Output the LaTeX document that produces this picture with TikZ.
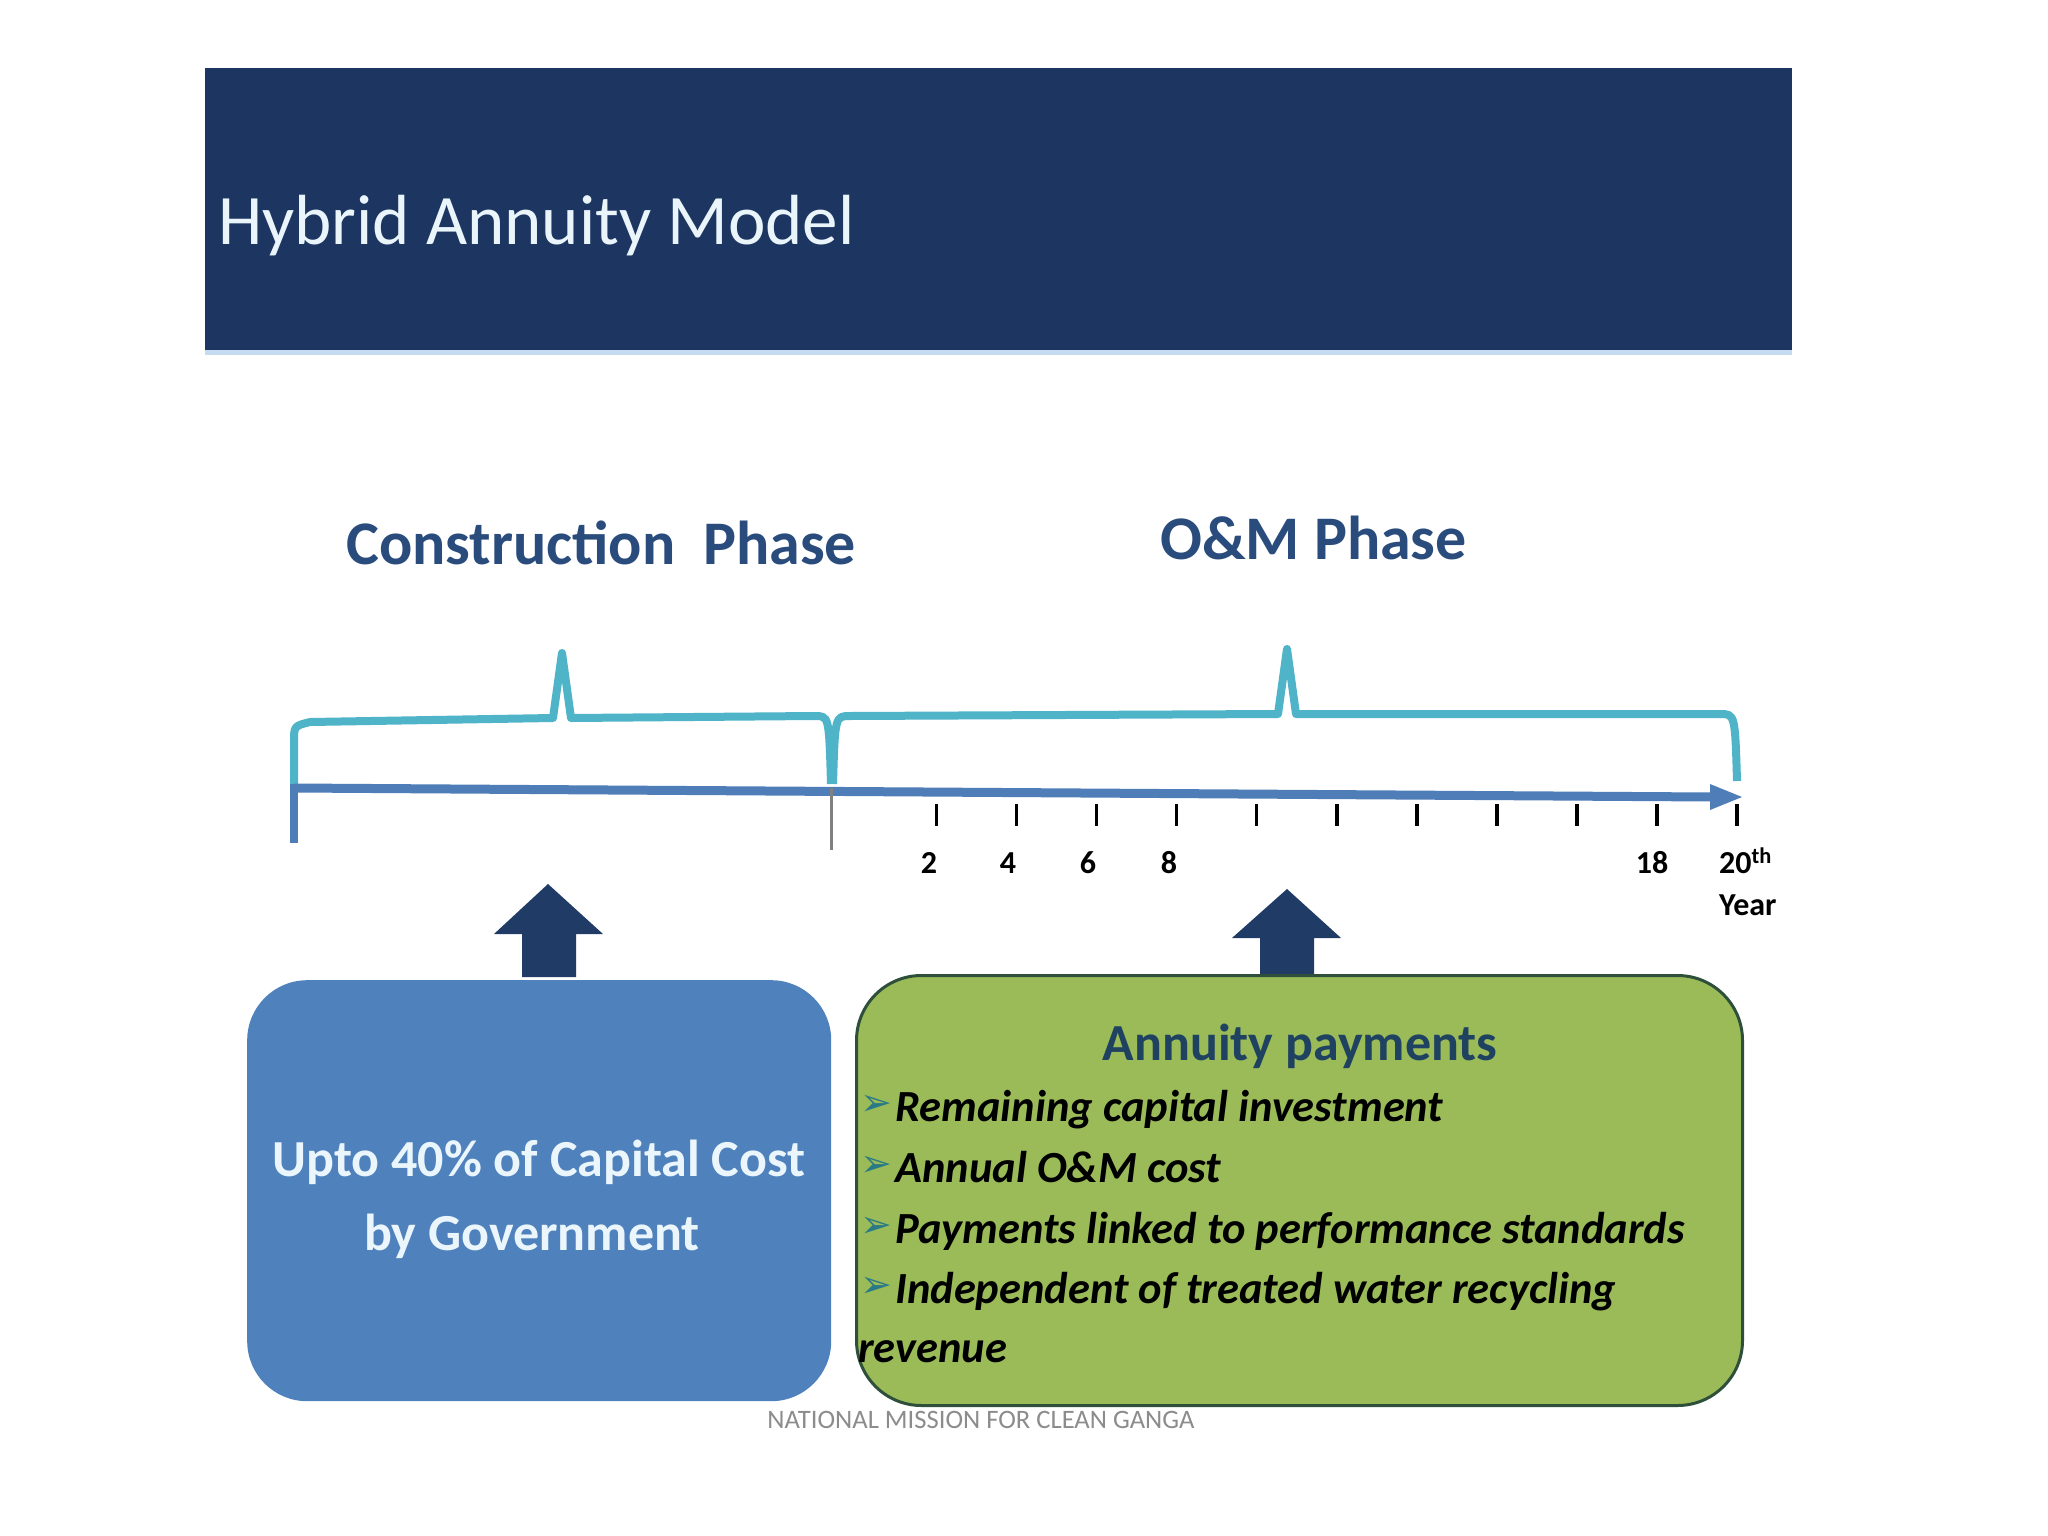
\documentclass[tikz,border=0pt]{standalone}
\usepackage{fontspec}
\setmainfont{Carlito}
\newfontfamily\dejavu{DejaVu Sans}
\definecolor{navy}{HTML}{1C3661}
\definecolor{shadowline}{HTML}{9DC3E6}
\definecolor{titletext}{HTML}{EAF4FB}
\definecolor{phasetext}{HTML}{2A4C7D}
\definecolor{bracket}{HTML}{4FB4C8}
\definecolor{axis}{HTML}{4F7DB8}
\definecolor{arrowblue}{HTML}{1F3B66}
\definecolor{boxblue}{HTML}{4F81BD}
\definecolor{boxtext}{HTML}{EAF6FB}
\definecolor{boxgreen}{HTML}{9BBB59}
\definecolor{greenline}{HTML}{2E4F3A}
\definecolor{annuity}{HTML}{1F4260}
\definecolor{bulletc}{HTML}{2A7A86}
\definecolor{footer}{HTML}{8C8C8C}
\begin{document}
\begin{tikzpicture}[x=1pt,y=-1pt,
  phase/.style={anchor=base west,text=phasetext,font=\fontsize{62}{70}\selectfont\bfseries,inner sep=0},
  ticklabel/.style={anchor=base,font=\fontsize{32}{36}\selectfont\bfseries,inner sep=0},
  bulletline/.style={anchor=base west,font=\fontsize{44.5}{52}\selectfont\bfseries\itshape,inner sep=0},
  bulletmark/.style={anchor=base west,text=bulletc,font=\fontsize{38}{44}\selectfont\dejavu,inner sep=0},
  blockarrow/.style={fill=arrowblue,draw=none}]
\useasboundingbox (0,0) rectangle (2048,1536);
\fill[white] (0,0) rectangle (2048,1536);
% header
\fill[navy] (205,68) rectangle (1792,350);
\fill[shadowline,fill opacity=0.6] (205,350) rectangle (1792,355);
\node[anchor=base west,text=titletext,font=\fontsize{71}{84}\selectfont,inner sep=0] (title) at (218,244) {Hybrid Annuity Model};
% phase titles
\node[phase] (cons) at (346,564) {Construction\ \ Phase};
\node[phase] (om) at (1160,559) {O\&M Phase};
% brackets
\draw[bracket,line width=8pt,line join=round]
  (294,786) -- (294,742) .. controls (294,726) .. (310,722) -- (553,718) -- (562,653) -- (571,718) -- (815,716) .. controls (829,716) .. (831,784);
\draw[bracket,line width=8pt,line join=round]
  (833,784) .. controls (835,716) .. (850,716) -- (1278,714) -- (1287,649) -- (1296,714) -- (1720,714) .. controls (1735,714) .. (1737,781);
% main axis
\coordinate (axstart) at (294,788);
\coordinate (axend) at (1742,797);
\draw[axis,line width=9pt] (axstart) -- (1712,797);
\fill[axis] (1710,784) -- (1742,797) -- (1710,810) -- cycle;
\draw[axis,line width=8pt] (294,784) -- (294,843);
\draw[gray,line width=3pt] (831,788) -- (831,850);
% ticks
\foreach \i in {0,...,10} {
  \draw[black,line width=3.5pt] ({936.5+80.05*\i},804) -- ({936.5+80.05*\i},826);
}
\node[ticklabel] (t2) at (929,873) {2};
\node[ticklabel] (t4) at (1008,873) {4};
\node[ticklabel] (t6) at (1088,873) {6};
\node[ticklabel] (t8) at (1169,873) {8};
\node[ticklabel] (t18) at (1652,873) {18};
\node[ticklabel,anchor=base west] (t20) at (1719,873) {20\textsuperscript{th}};
\node[ticklabel,anchor=base west] (year) at (1719,915) {Year};
% up arrows
\fill[blockarrow] (522,977) -- (522,934) -- (494,934) -- (548,884) -- (603,934) -- (576,934) -- (576,977) -- cycle;
\fill[blockarrow] (1260,977) -- (1260,938) -- (1232,938) -- (1287,889) -- (1341,938) -- (1314,938) -- (1314,977) -- cycle;
% boxes
\node[fill=boxblue,rounded corners=60pt,minimum width=584pt,minimum height=421pt,anchor=north west,inner sep=0] (govbox) at (247,980) {};
\node[anchor=base,text=boxtext,font=\fontsize{52}{60}\selectfont\bfseries,inner sep=0] (gov1) at (539,1176) {Upto 40\% of Capital Cost};
\node[anchor=base,text=boxtext,font=\fontsize{52}{60}\selectfont\bfseries,inner sep=0] (gov2) at (532,1250) {by Government};
\node[fill=boxgreen,draw=greenline,line width=3pt,rounded corners=65pt,minimum width=886pt,minimum height=430pt,anchor=north west,inner sep=0] (annbox) at (855,974) {};
\node[anchor=base,text=annuity,font=\fontsize{52}{60}\selectfont\bfseries,inner sep=0] (anntitle) at (1300,1060) {Annuity payments};
\node[bulletmark] (m1) at (860,1115) {➢};
\node[bulletline] (b1) at (895,1121) {Remaining capital investment};
\node[bulletmark] (m2) at (860,1176) {➢};
\node[bulletline] (b2) at (895,1182) {Annual O\&M cost};
\node[bulletmark] (m3) at (860,1237) {➢};
\node[bulletline] (b3) at (895,1243) {Payments linked to performance standards};
\node[bulletmark] (m4) at (860,1297) {➢};
\node[bulletline] (b4) at (895,1303) {Independent of treated water recycling};
\node[bulletline] (b5) at (858,1362) {revenue};
% footer
\node[anchor=base,text=footer,font=\fontsize{26.6}{30}\selectfont,inner sep=0] (foot) at (981,1428) {NATIONAL MISSION FOR CLEAN GANGA};
\end{tikzpicture}
\end{document}
